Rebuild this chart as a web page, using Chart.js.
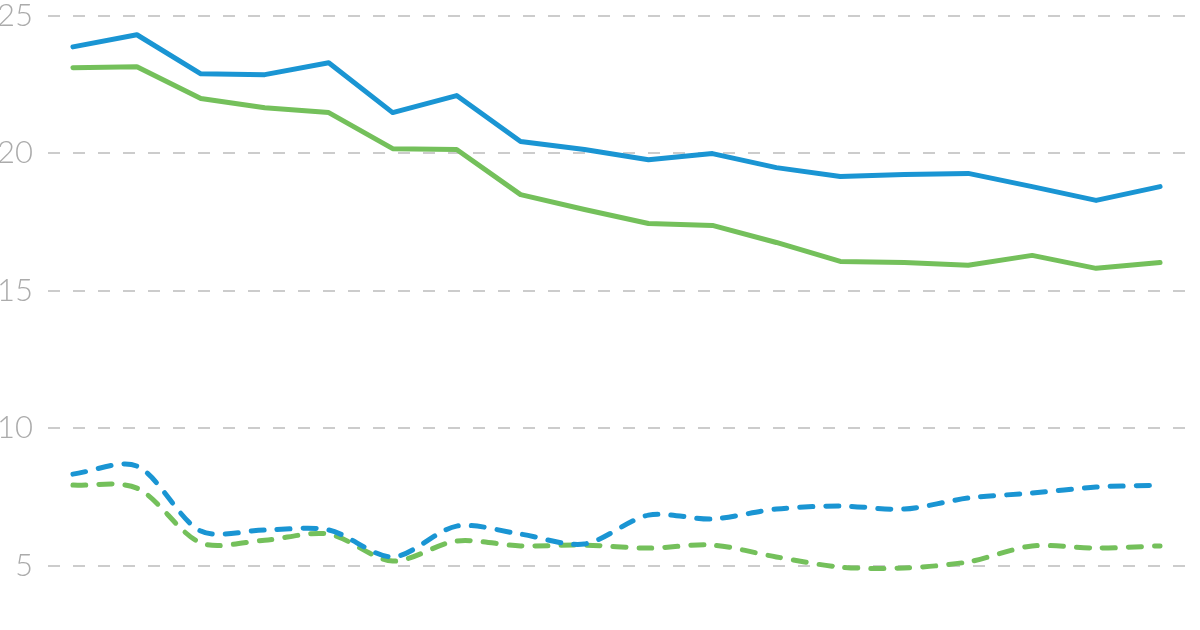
<!DOCTYPE html>
<html>
<head>
<meta charset="utf-8">
<script src="https://cdn.jsdelivr.net/npm/chart.js@4/dist/chart.umd.min.js"></script>
<style>
  html, body { margin: 0; padding: 0; background: #fff; }
  #wrap { width: 1200px; height: 630px; }
</style>
</head>
<body>
<div id="wrap"><canvas id="myChart"></canvas></div>
<script>
const points = [0, 1, 2, 3, 4, 5, 6, 7, 8, 9, 10, 11, 12, 13, 14, 15, 16, 17]
const blueSolid = [23.87, 24.31, 22.89, 22.86, 23.29, 21.48, 22.10, 20.43, 20.14, 19.77, 19.99, 19.48, 19.16, 19.23, 19.27, 18.79, 18.29, 18.79]
const greenSolid = [23.11, 23.15, 21.99, 21.66, 21.48, 20.17, 20.14, 18.50, 17.96, 17.45, 17.38, 16.76, 16.07, 16.03, 15.93, 16.29, 15.82, 16.03]
const blueDashed = [8.34, 8.63, 6.27, 6.31, 6.31, 5.33, 6.45, 6.16, 5.80, 6.85, 6.71, 7.07, 7.18, 7.07, 7.47, 7.65, 7.87, 7.94]
const greenDashed = [7.94, 7.83, 5.84, 5.94, 6.16, 5.18, 5.91, 5.73, 5.76, 5.65, 5.76, 5.33, 4.96, 4.93, 5.15, 5.73, 5.65, 5.73]
const yTicks = [5, 10, 15, 20, 25]

const BLUE = '#1a95d3'
const GREEN = '#74c05b'

function toXY(values) {
  return values.map((v, i) => ({ x: points[i], y: v }))
}

function line(values, color, dashed) {
  return {
    data: toXY(values),
    borderColor: color,
    borderWidth: 5,
    borderDash: dashed ? [13, 13] : [],
    borderCapStyle: 'round',
    borderJoinStyle: 'round',
    tension: dashed ? 0.3 : 0,
    pointRadius: 0,
    fill: false,
    clip: false
  }
}

const ctx = document.getElementById('myChart')
new Chart(ctx, {
  type: 'line',
  data: {
    datasets: [
      line(blueSolid, BLUE, false),
      line(greenSolid, GREEN, false),
      line(blueDashed, BLUE, true),
      line(greenDashed, GREEN, true)
    ]
  },
  options: {
    responsive: true,
    maintainAspectRatio: false,
    animation: false,
    layout: { padding: { top: 15, bottom: 64, left: 0, right: 15 } },
    plugins: { legend: { display: false }, tooltip: { enabled: false } },
    scales: {
      x: {
        type: 'linear',
        min: -0.39,
        max: 17.39,
        display: false
      },
      y: {
        min: 5,
        max: 25,
        afterBuildTicks: (axis) => { axis.ticks = yTicks.map(v => ({ value: v })) },
        afterFit: (axis) => { axis.width = 48 },
        border: { display: false, dash: [12, 13] },
        grid: { color: '#cccccc', lineWidth: 2, drawTicks: false },
        ticks: {
          color: '#ababab',
          padding: 15,
          // tiny lineHeight keeps the label from pushing the plot area down
          font: { family: 'Lato', size: 31, weight: 300, lineHeight: 0.05 }
        }
      }
    }
  }
})
</script>
</body>
</html>
